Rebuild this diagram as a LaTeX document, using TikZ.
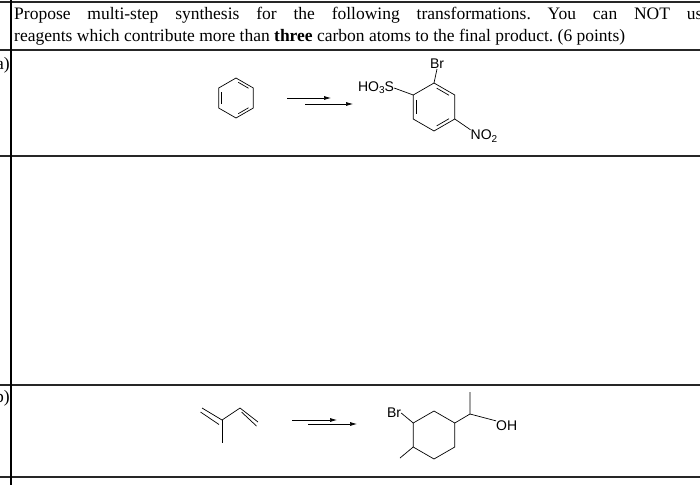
\documentclass[tikz,border=0pt]{standalone}
\usepackage{fontspec}
\setmainfont{Liberation Serif}
\newfontfamily\chem{Liberation Sans}
\usetikzlibrary{calc,arrows.meta}
\newcommand{\sbs}[1]{\raisebox{-0.3ex}{\fontsize{10}{10}\selectfont #1}}
\begin{document}
\frenchspacing
\begin{tikzpicture}[x=1pt,y=-1pt,
  rule/.style={line width=1.6pt,black!85},
  bond/.style={line width=0.7pt},
  rarrow/.style={line width=0.7pt,-{Latex[length=7pt,width=4pt]}},
  lab/.style={font=\chem\fontsize{14}{14}\selectfont,inner sep=0pt},
  hdr/.style={font=\fontsize{17.5}{19}\selectfont,inner sep=0pt,anchor=west}]
\useasboundingbox (0,0) rectangle (700,485);
\fill[white] (0,0) rectangle (700,485);
% table rules
\draw[rule] (0,2) -- (700,2);
\draw[rule] (0,50) -- (700,50);
\draw[rule] (0,156) -- (700,156);
\draw[rule] (0,385) -- (700,385);
\draw[rule] (0,477) -- (700,477);
\draw[line width=1.8pt] (11,0) -- (11,485);
% header
\node[hdr] (h1) at (14,15) {\makebox[696pt][s]{Propose multi-step synthesis for the following transformations. You can NOT use}};
\node[hdr] (h2) at (14,37) {reagents which contribute more than \textbf{three} carbon atoms to the final product. (6 points)};
\node[hdr,anchor=east] (pa) at (10,65) {a)};
\node[hdr,anchor=east] (pb) at (10,398) {b)};
% benzene
\foreach \i in {0,...,5} \coordinate (b\i) at ({236+20*cos(90+60*\i)},{98-20*sin(90+60*\i)});
\draw[bond] (b0)--(b1)--(b2)--(b3)--(b4)--(b5)--cycle;
\foreach \a/\b in {1/2,3/4,5/0}
  \draw[bond] ($(b\a)!0.15!(b\b)!0.15!(236,98)$) -- ($(b\b)!0.15!(b\a)!0.15!(236,98)$);
% arrows a
\coordinate (a1s) at (287,98); \coordinate (a1e) at (331,98);
\coordinate (a2s) at (305,104); \coordinate (a2e) at (353,104);
\draw[rarrow] (a1s) -- (a1e);
\draw[rarrow] (a2s) -- (a2e);
% product a
\foreach \i in {0,...,5} \coordinate (p\i) at ({434+24*cos(90+60*\i)},{107-24*sin(90+60*\i)});
\draw[bond] (p0)--(p1)--(p2)--(p3)--(p4)--(p5)--cycle;
\foreach \a/\b in {1/2,3/4,5/0}
  \draw[bond] ($(p\a)!0.15!(p\b)!0.15!(434,107)$) -- ($(p\b)!0.15!(p\a)!0.15!(434,107)$);
\node[lab] (br1) at (437,64) {Br};
\node[lab] (so3) at (376,88) {HO\sbs{3}S};
\node[lab] (no2) at (484,136) {NO\sbs{2}};
\draw[bond] (p0) -- (br1.south);
\draw[bond] (p1) -- (so3.east);
\draw[bond] (p4) -- (no2.north west);
% isoprene
\coordinate (i1) at (202,408); \coordinate (i2) at (222,420);
\coordinate (i3) at (222,443); \coordinate (i4) at (240,408);
\coordinate (i5) at (258,422);
\draw[bond] (i1)--(i2)--(i4)--(i5); \draw[bond] (i2)--(i3);
\draw[bond] ($(i1)+(-1.5,4)$) -- ($(i2)+(-3,4.5)$);
\draw[bond] ($(i4)+(1.5,4)$) -- ($(i5)+(-1.5,4)$);
% arrows b
\coordinate (b1s) at (292,420); \coordinate (b1e) at (337,420);
\coordinate (b2s) at (308,424); \coordinate (b2e) at (357,424);
\draw[rarrow] (b1s) -- (b1e);
\draw[rarrow] (b2s) -- (b2e);
% product b
\foreach \i in {0,...,5} \coordinate (q\i) at ({434+24*cos(90+60*\i)},{435-24*sin(90+60*\i)});
\draw[bond] (q0)--(q1)--(q2)--(q3)--(q4)--(q5)--cycle;
\node[lab] (br2) at (394,413) {Br};
\draw[bond] (q1) -- (br2.east);
\draw[bond] (q2) -- (400,458);
\coordinate (ch) at (470,414);
\draw[bond] (q5) -- (ch) -- (470,392);
\node[lab,anchor=west] (oh) at (496,426) {OH};
\draw[bond] (ch) -- (oh.north west);
\end{tikzpicture}
\end{document}
